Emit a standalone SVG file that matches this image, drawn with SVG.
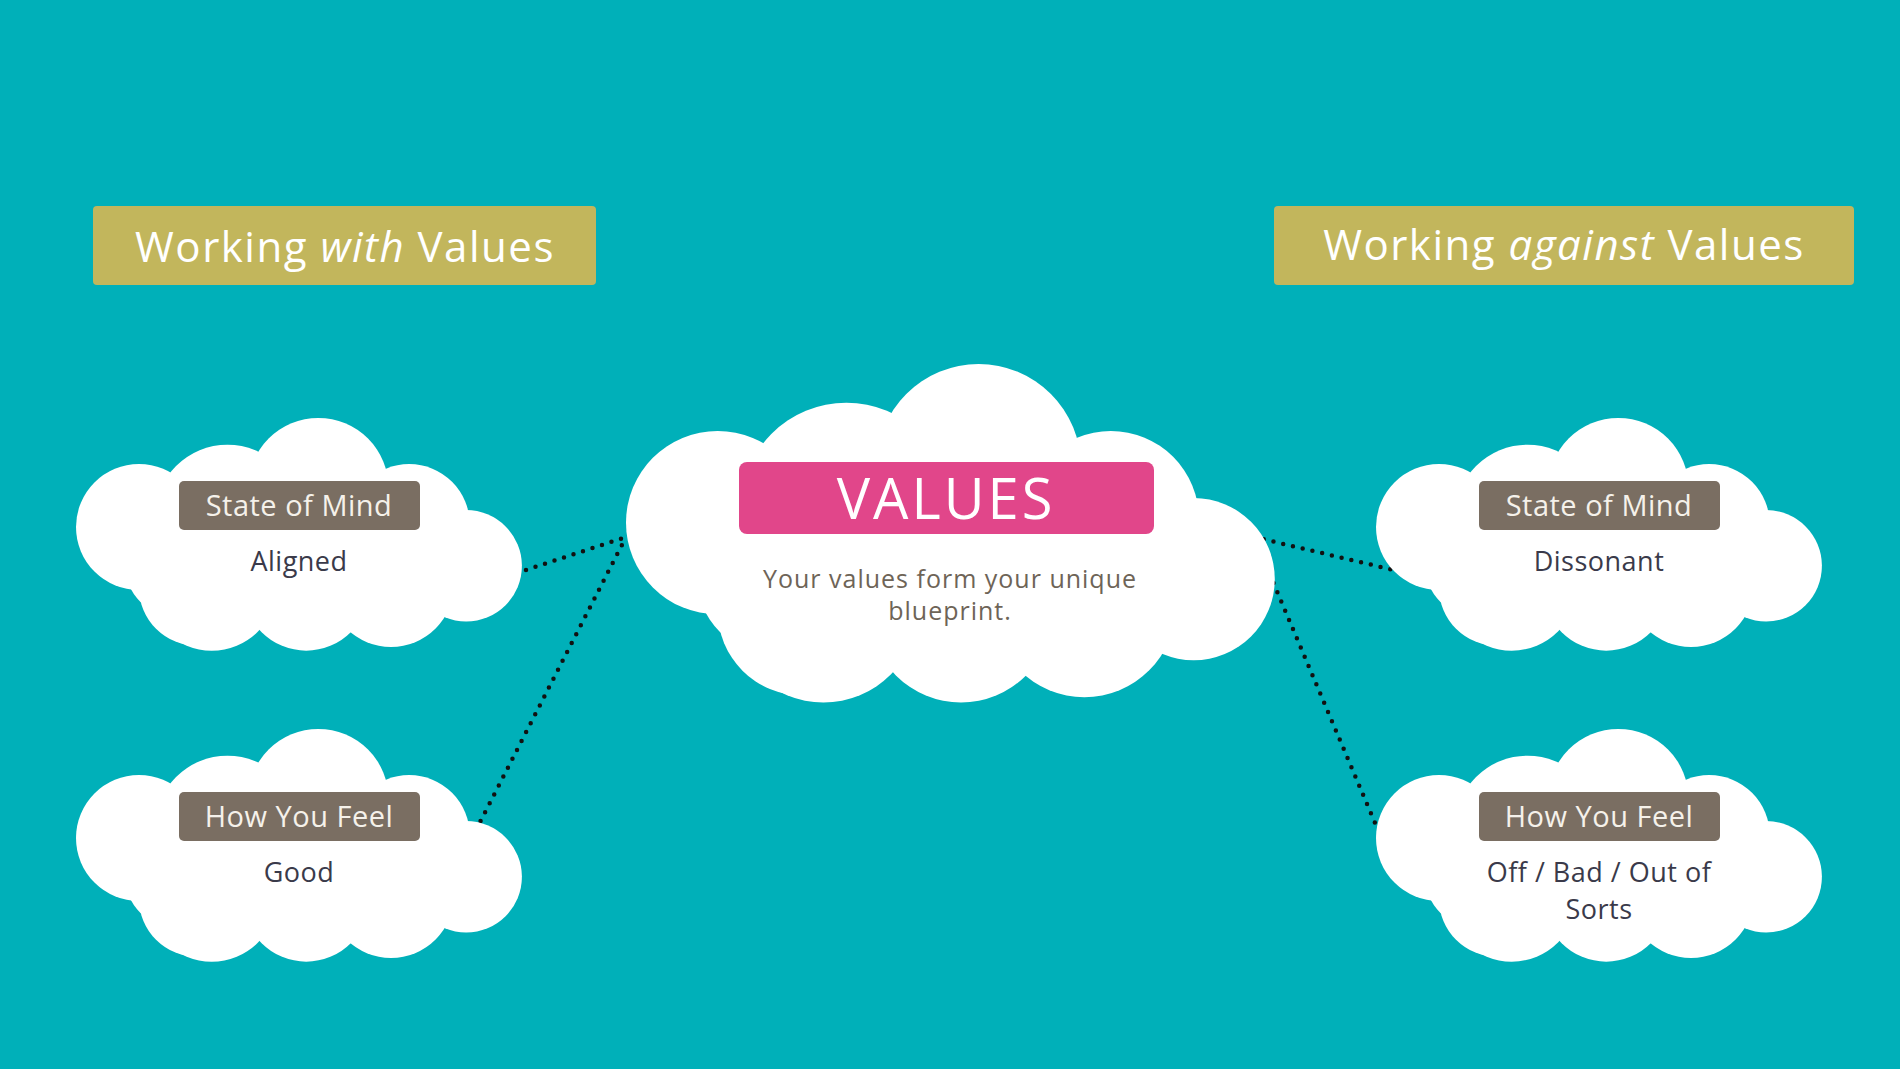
<svg xmlns="http://www.w3.org/2000/svg" width="1900" height="1069" viewBox="0 0 1900 1069">
<style>
text{font-family:"Open Sans","Noto Sans",sans-serif;text-anchor:middle}
.title{fill:#fff;font-size:42px;letter-spacing:1.5px}
.lab{fill:#f5f1ea;font-size:29px;letter-spacing:0.5px}
.val{fill:#3a3a4a;font-size:27px;letter-spacing:0.5px}
.lbox{fill:#7a6e62}
.tbox{fill:#c2b65c}
.conn{stroke:#111;stroke-width:4.5;stroke-dasharray:0 10;stroke-linecap:round;fill:none}
</style>
<defs>
<g id="cloud" fill="#fff">
<circle cx="52" cy="90" r="52"/><circle cx="200" cy="58" r="58"/><circle cx="125" cy="82" r="60"/>
<circle cx="275" cy="88" r="50"/><circle cx="322" cy="122" r="46"/><circle cx="112" cy="138" r="54"/>
<circle cx="190" cy="140" r="52"/><circle cx="260" cy="137" r="52"/><circle cx="85" cy="120" r="45"/><circle cx="100" cy="140" r="48"/><rect x="60" y="70" width="260" height="90"/>
</g>
</defs>
<rect width="1900" height="1069" fill="#00b0b9"/>
<g id="title-with"><rect class="tbox" x="93" y="206" width="503" height="79" rx="4"/><text class="title" x="345" y="262">Working <tspan font-style="italic">with</tspan> Values</text></g>
<g id="title-against"><rect class="tbox" x="1274" y="206" width="580" height="79" rx="4"/><text class="title" x="1564" y="260">Working <tspan font-style="italic">against</tspan> Values</text></g>
<g id="connectors">
<path class="conn" d="M526 570L626 537M476 830L626 537M1254 537L1402 572M1254 537L1378 830"/>
</g>
<g id="center"><use href="#cloud" transform="translate(626,364) scale(1.763)"/>
<rect x="739" y="462" width="415" height="72" rx="8" fill="#e1468a"/>
<text x="946" y="519" fill="#fff" font-size="56" letter-spacing="3">VALUES</text>
<text x="950" y="588" fill="#6e6457" font-size="25" letter-spacing="1">Your values form your unique</text>
<text x="950" y="620" fill="#6e6457" font-size="25" letter-spacing="1">blueprint.</text></g>
<g id="left-mind"><use href="#cloud" transform="translate(76,418) scale(1.2117)"/>
<rect class="lbox" x="179" y="481" width="241" height="49" rx="5"/><text class="lab" x="299" y="516">State of Mind</text><text class="val" x="299" y="571">Aligned</text></g>
<g id="left-feel"><use href="#cloud" transform="translate(76,729) scale(1.2117)"/>
<rect class="lbox" x="179" y="792" width="241" height="49" rx="5"/><text class="lab" x="299" y="827">How You Feel</text><text class="val" x="299" y="882">Good</text></g>
<g id="right-mind"><use href="#cloud" transform="translate(1376,418) scale(1.2117)"/>
<rect class="lbox" x="1479" y="481" width="241" height="49" rx="5"/><text class="lab" x="1599" y="516">State of Mind</text><text class="val" x="1599" y="571">Dissonant</text></g>
<g id="right-feel"><use href="#cloud" transform="translate(1376,729) scale(1.2117)"/>
<rect class="lbox" x="1479" y="792" width="241" height="49" rx="5"/><text class="lab" x="1599" y="827">How You Feel</text><text class="val" x="1599" y="882">Off / Bad / Out of</text><text class="val" x="1599" y="919">Sorts</text></g>
</svg>
